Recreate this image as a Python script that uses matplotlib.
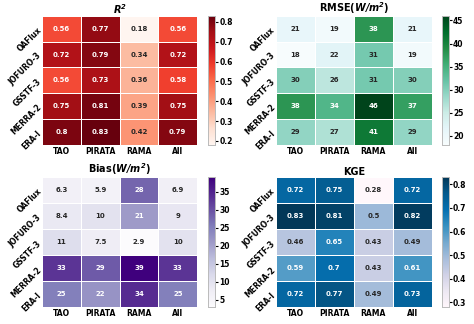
import matplotlib
matplotlib.use('Agg')
import matplotlib.pyplot as plt
import seaborn as sns
import numpy as np

products = ['OAFlux', 'JOFURO-3', 'GSSTF-3', 'MERRA-2', 'ERA-I']
buoys = ['TAO', 'PIRATA', 'RAMA', 'All']

r2 = np.array([
    [0.56, 0.77, 0.18, 0.56],
    [0.72, 0.79, 0.34, 0.72],
    [0.56, 0.73, 0.36, 0.58],
    [0.75, 0.81, 0.39, 0.75],
    [0.80, 0.83, 0.42, 0.79],
])
rmse = np.array([
    [21, 19, 38, 21],
    [18, 22, 31, 19],
    [30, 26, 31, 30],
    [38, 34, 46, 37],
    [29, 27, 41, 29],
])
bias = np.array([
    [6.3, 5.9, 28, 6.9],
    [8.4, 10, 21, 9],
    [11, 7.5, 2.9, 10],
    [33, 29, 39, 33],
    [25, 22, 34, 25],
])
kge = np.array([
    [0.72, 0.75, 0.28, 0.72],
    [0.83, 0.81, 0.50, 0.82],
    [0.46, 0.65, 0.43, 0.49],
    [0.59, 0.70, 0.43, 0.61],
    [0.72, 0.77, 0.49, 0.73],
])

panels = [
    (r2, 'Reds', '$\\mathbfit{R^2}$'),
    (rmse, 'BuGn', 'RMSE($\\mathbfit{W/m^2}$)'),
    (bias, 'Purples', 'Bias($\\mathbfit{W/m^2}$)'),
    (kge, 'PuBu', 'KGE'),
]

plt.rcParams['font.weight'] = 'bold'
fig = plt.figure(figsize=(4.74, 3.24), dpi=100)

# [heatmap rect, colorbar rect]
boxes = [
    ([0.089, 0.553, 0.327, 0.398], [0.439, 0.553, 0.015, 0.398]),
    ([0.582, 0.553, 0.329, 0.398], [0.932, 0.553, 0.015, 0.398]),
    ([0.089, 0.052, 0.327, 0.401], [0.439, 0.052, 0.015, 0.401]),
    ([0.582, 0.052, 0.329, 0.401], [0.932, 0.052, 0.015, 0.401]),
]

for (data, cmap, title), (hrect, crect) in zip(panels, boxes):
    ax = fig.add_axes(hrect)
    cax = fig.add_axes(crect)
    sns.heatmap(data, ax=ax, cbar_ax=cax, cmap=cmap, annot=True,
                linewidths=0.5, linecolor='white',
                annot_kws={'fontsize': 5, 'fontweight': 'bold'},
                xticklabels=buoys, yticklabels=products)
    ax.set_title(title, fontsize=7, fontweight='bold', pad=1.5)
    ax.tick_params(axis='both', length=0, labelsize=5.5, pad=1.5)
    plt.setp(ax.get_xticklabels(), rotation=0, fontweight='bold')
    plt.setp(ax.get_yticklabels(), rotation=45, ha='right',
             rotation_mode='anchor', fontweight='bold')
    cax.tick_params(labelsize=5.5, length=2, pad=1)
    for t in cax.get_yticklabels():
        t.set_fontweight('bold')
    for s in cax.spines.values():
        s.set_visible(True)
        s.set_color('#bbbbbb')
        s.set_linewidth(0.6)

fig.savefig('out.png', dpi=100)
